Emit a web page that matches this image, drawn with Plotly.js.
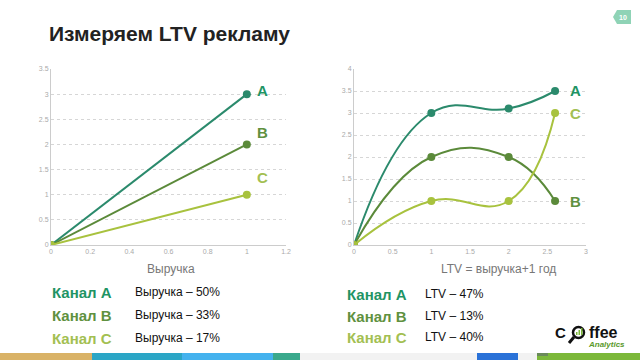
<!DOCTYPE html>
<html><head><meta charset="utf-8">
<script src="https://cdn.plot.ly/plotly-3.0.1.min.js"></script>
<style>html,body{margin:0;padding:0;background:#fff}#chart{width:640px;height:360px}</style>
</head><body><div id="chart"></div>
<script>
// Left chart: Выручка
const leftX = [0, 1];
const leftA = [0, 3];
const leftB = [0, 2];
const leftC = [0, 1];
// Right chart: LTV = выручка+1 год
const rightX = [0, 1, 2, 2.6];
const rightA = [0, 3, 3.1, 3.5];
const rightB = [0, 2, 2, 1];
const rightC = [0, 1, 1, 3];
const seriesNames = ['A', 'B', 'C'];
const channelLabels = ['Канал А', 'Канал В', 'Канал С'];
const revenueTexts = ['Выручка – 50%', 'Выручка – 33%', 'Выручка – 17%'];
const ltvTexts = ['LTV – 47%', 'LTV – 13%', 'LTV – 40%'];

const lineColors = ['#2b8a6c', '#5b8a3a', '#a8c23e'];
const labelColors = ['#1f9464', '#5f9140', '#a3bf52'];
const FONT = 'Liberation Sans, Arial';

const traces = [];
[leftA, leftB, leftC].forEach((ys, i) => {
  traces.push({x: leftX, y: ys, xaxis: 'x', yaxis: 'y', mode: 'lines+markers', name: seriesNames[i],
    line: {color: lineColors[i], width: 2}, marker: {color: lineColors[i], size: 8}});
});
[rightA, rightB, rightC].forEach((ys, i) => {
  traces.push({x: rightX, y: ys, xaxis: 'x2', yaxis: 'y2', mode: 'lines+markers', name: seriesNames[i],
    line: {color: lineColors[i], width: 2, shape: 'spline', smoothing: 1.3}, marker: {color: lineColors[i], size: 8}});
});

const axisCommon = {
  showline: true, linecolor: '#cccccc', linewidth: 1, zeroline: false,
  tickfont: {family: FONT, size: 7, color: '#aaaaaa'},
  ticks: '', fixedrange: true
};
const yCommon = Object.assign({}, axisCommon, {showgrid: true, gridcolor: '#d6d6d6', griddash: 'dot', gridwidth: 1});
const xCommon = Object.assign({}, axisCommon, {showgrid: false});

const P = (x) => x/640, Q = (y) => 1 - y/360;
const ann = [];
function txt(x, y, text, size, color, xanchor) {
  ann.push({xref: 'paper', yref: 'paper', x: P(x), y: Q(y), text: text, showarrow: false,
    xanchor: xanchor || 'center', yanchor: 'middle', font: {family: FONT, size: size, color: color}});
}
// title
txt(47, 33, '<b>Измеряем LTV рекламу</b>', 21, '#222222', 'left');
// series labels on charts
const leftLabelY = [3.07, 2.23, 1.35];
const rightLabelY = [3.52, 1.0, 2.98];
seriesNames.forEach((s, i) => {
  ann.push({xref: 'x', yref: 'y', x: 1.08, y: leftLabelY[i], text: '<b>' + s + '</b>', showarrow: false,
    xanchor: 'center', yanchor: 'middle', font: {family: FONT, size: 15, color: labelColors[i]}});
  ann.push({xref: 'x2', yref: 'y2', x: 2.86, y: rightLabelY[i], text: '<b>' + s + '</b>', showarrow: false,
    xanchor: 'center', yanchor: 'middle', font: {family: FONT, size: 15, color: labelColors[i]}});
});
// axis titles
txt(171, 269, 'Выручка', 12, '#777777');
txt(498, 269, 'LTV = выручка+1 год', 12, '#777777');
// bottom texts
const rowsL = [292, 315, 338];
const rowsR = [294, 316, 337];
channelLabels.forEach((c, i) => {
  txt(50, rowsL[i], '<b>' + c + '</b>', 15, labelColors[i], 'left');
  txt(133, rowsL[i], revenueTexts[i], 12, '#111111', 'left');
  txt(345, rowsR[i], '<b>' + c + '</b>', 15, labelColors[i], 'left');
  txt(423, rowsR[i], ltvTexts[i], 12, '#111111', 'left');
});
// page number
txt(623, 17, '<b>10</b>', 7, '#ffffff');
// logo
txt(568, 332, '<b>C</b>', 15, '#111111', 'right');
txt(587, 332, '<b>ffee</b>', 16, '#111111', 'left');
txt(606, 344, '<b><i>Analytics</i></b>', 8, '#5a9a2a');

const shapes = [
  // page badge
  {type: 'path', xref: 'paper', yref: 'paper', path: `M ${P(613)} ${Q(17)} L ${P(617)} ${Q(10)} L ${P(631)} ${Q(10)} L ${P(631)} ${Q(24)} L ${P(617)} ${Q(24)} Z`,
    fillcolor: '#8fd3b6', line: {width: 0}},
  // bottom strip
  {type: 'rect', xref: 'paper', yref: 'paper', x0: P(0), x1: P(92), y0: Q(360), y1: Q(353), fillcolor: '#d9b266', line: {width: 0}},
  {type: 'rect', xref: 'paper', yref: 'paper', x0: P(92), x1: P(182), y0: Q(360), y1: Q(353), fillcolor: '#2ba6c6', line: {width: 0}},
  {type: 'rect', xref: 'paper', yref: 'paper', x0: P(182), x1: P(273), y0: Q(360), y1: Q(353), fillcolor: '#44b2ee', line: {width: 0}},
  {type: 'rect', xref: 'paper', yref: 'paper', x0: P(273), x1: P(300), y0: Q(360), y1: Q(353), fillcolor: '#3aa98c', line: {width: 0}},
  {type: 'rect', xref: 'paper', yref: 'paper', x0: P(300), x1: P(537), y0: Q(360), y1: Q(353), fillcolor: '#f2f2f2', line: {width: 0}},
  {type: 'rect', xref: 'paper', yref: 'paper', x0: P(477), x1: P(518), y0: Q(360), y1: Q(353), fillcolor: '#2a72d8', line: {width: 0}},
  {type: 'rect', xref: 'paper', yref: 'paper', x0: P(537), x1: P(640), y0: Q(360), y1: Q(353), fillcolor: '#7cb83a', line: {width: 0}},
  {type: 'rect', xref: 'paper', yref: 'paper', x0: P(537), x1: P(548), y0: Q(356), y1: Q(353), fillcolor: '#6a8a5a', line: {width: 0}},
  // logo magnifier
  {type: 'circle', xref: 'paper', yref: 'paper', x0: P(573), x1: P(584), y0: Q(338), y1: Q(327), line: {color: '#111111', width: 2.5}},
  {type: 'line', xref: 'paper', yref: 'paper', x0: P(574), x1: P(569), y0: Q(337), y1: Q(343), line: {color: '#111111', width: 3}},
  {type: 'rect', xref: 'paper', yref: 'paper', x0: P(576), x1: P(577.5), y0: Q(335), y1: Q(332), fillcolor: '#7cb83a', line: {width: 0}},
  {type: 'rect', xref: 'paper', yref: 'paper', x0: P(578.5), x1: P(580), y0: Q(335), y1: Q(330), fillcolor: '#7cb83a', line: {width: 0}},
  {type: 'rect', xref: 'paper', yref: 'paper', x0: P(581), x1: P(582.5), y0: Q(335), y1: Q(328), fillcolor: '#7cb83a', line: {width: 0}}
];

const layout = {
  width: 640, height: 360, margin: {l: 0, r: 0, t: 0, b: 0},
  paper_bgcolor: '#ffffff', plot_bgcolor: '#ffffff', showlegend: false,
  xaxis: Object.assign({}, xCommon, {domain: [51/640, 286/640], range: [0, 1.2], dtick: 0.2, anchor: 'y'}),
  yaxis: Object.assign({}, yCommon, {domain: [1 - 245/360, 1 - 69/360], range: [0, 3.5], dtick: 0.5, anchor: 'x'}),
  xaxis2: Object.assign({}, xCommon, {domain: [354/640, 586/640], range: [0, 3], dtick: 0.5, anchor: 'y2'}),
  yaxis2: Object.assign({}, yCommon, {domain: [1 - 245/360, 1 - 69/360], range: [0, 4], dtick: 0.5, anchor: 'x2'}),
  annotations: ann, shapes: shapes
};
Plotly.newPlot('chart', traces, layout, {displayModeBar: false, staticPlot: true});
</script></body></html>
